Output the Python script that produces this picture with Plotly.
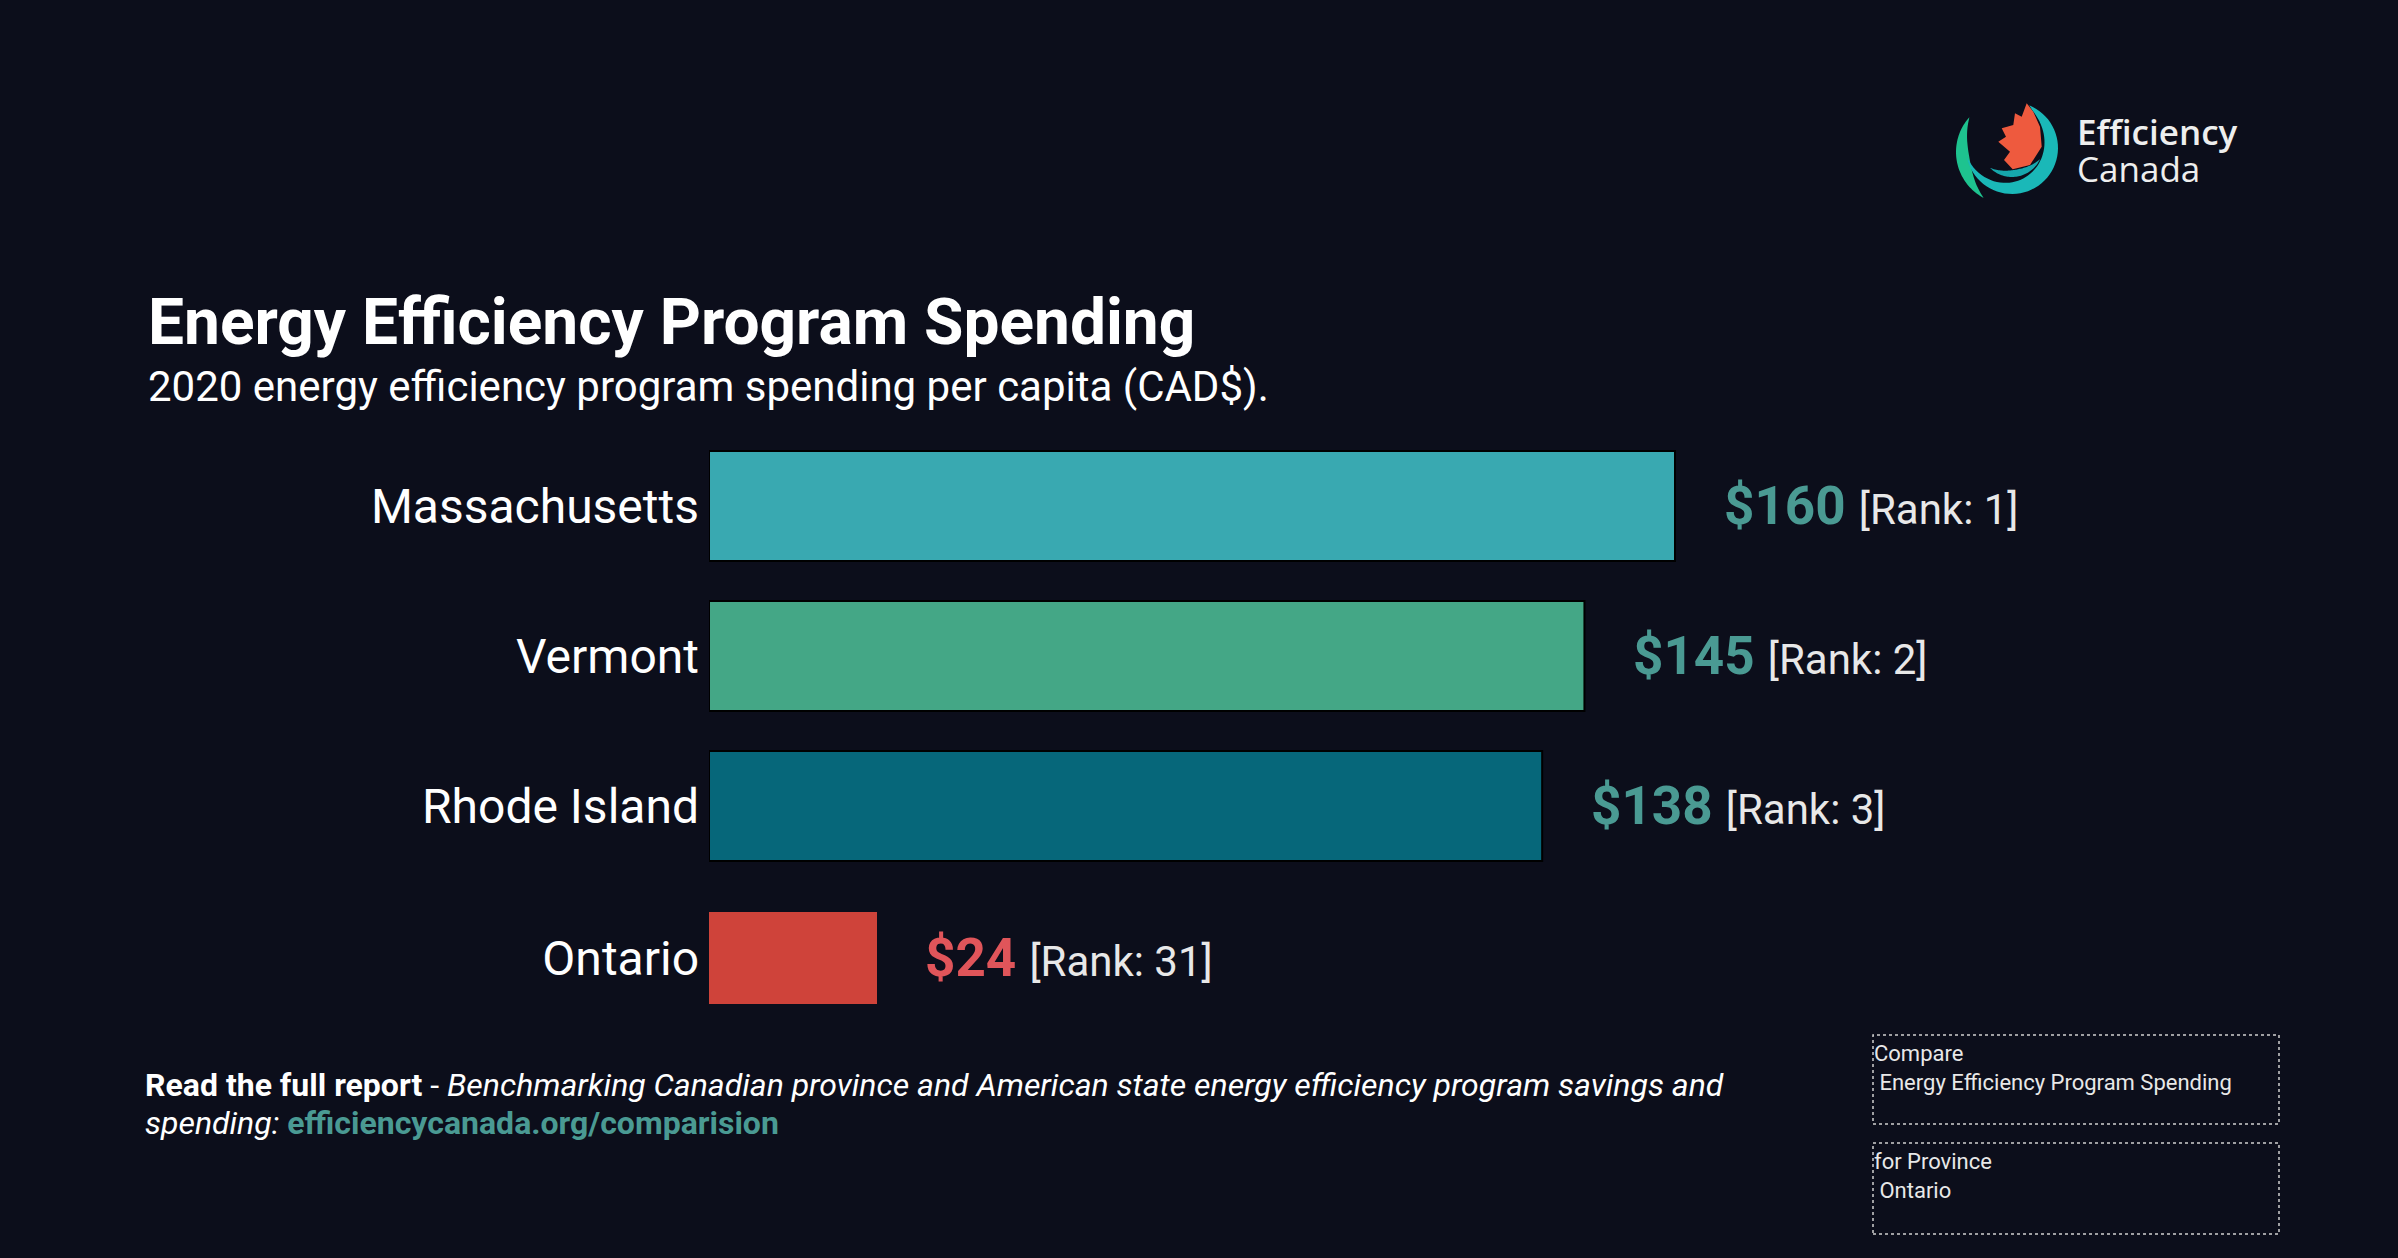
import math
import plotly.graph_objects as go

# ---------------- data ----------------
states = ["Massachusetts", "Vermont", "Rhode Island"]
state_values = [160, 145, 138]
state_ranks = [1, 2, 3]
state_colors = ["#39a9b1", "#44a786", "#06677a"]

province = ["Ontario"]
province_values = [24]
province_ranks = [31]
province_colors = ["#cf433a"]

title_text = "Energy Efficiency Program Spending"
subtitle_text = "2020 energy efficiency program spending per capita (CAD$)."

# ---------------- layout helpers ----------------
W, H = 2398, 1258
BG = "#0c0e1b"
TEAL_TXT = "#4a9a93"
RED_TXT = "#e0555a"
LIGHT = "#e8e8e8"


def fx(px):
    return px / W


def fy(py):
    return 1 - py / H


fig = go.Figure()

fig.add_trace(go.Bar(
    x=state_values, y=states, orientation="h",
    marker=dict(color=state_colors, line=dict(color="#000000", width=2)),
    width=0.733, xaxis="x", yaxis="y", hoverinfo="skip", showlegend=False,
))
fig.add_trace(go.Bar(
    x=province_values, y=province, orientation="h",
    marker=dict(color=province_colors, line=dict(width=0)),
    width=0.613, xaxis="x2", yaxis="y2", hoverinfo="skip", showlegend=False,
))

annotations = []
for name, v, r in zip(states, state_values, state_ranks):
    annotations.append(dict(
        x=v, y=name, xref="x", yref="y", xanchor="left", yanchor="middle",
        xshift=47, showarrow=False,
        text=f"<b>${v}</b> <span style='color:{LIGHT};font-size:42px'>[Rank: {r}]</span>",
        font=dict(family="Roboto", size=53, color=TEAL_TXT),
    ))
for name, v, r in zip(province, province_values, province_ranks):
    annotations.append(dict(
        x=v, y=name, xref="x2", yref="y2", xanchor="left", yanchor="middle",
        xshift=46, showarrow=False,
        text=f"<b>${v}</b> <span style='color:{LIGHT};font-size:42px'>[Rank: {r}]</span>",
        font=dict(family="Roboto", size=53, color=RED_TXT),
    ))

# title / subtitle
annotations.append(dict(
    x=fx(146), y=fy(322), xref="paper", yref="paper", xanchor="left", yanchor="middle",
    showarrow=False, text=f"<b>{title_text}</b>",
    font=dict(family="Roboto", size=64, color="#ffffff"),
))
annotations.append(dict(
    x=fx(146), y=fy(386), xref="paper", yref="paper", xanchor="left", yanchor="middle",
    showarrow=False, text=subtitle_text,
    font=dict(family="Roboto", size=42, color="#ffffff"),
))

# footer (two lines)
footer_1 = ("<b>Read the full report</b> - <i>Benchmarking Canadian province and American state "
            "energy efficiency program savings and</i>")
footer_2 = (f"<i>spending:</i> <span style='color:{TEAL_TXT}'><b>efficiencycanada.org/comparision</b></span>")
for txt, yc in ((footer_1, 1085), (footer_2, 1123)):
    annotations.append(dict(
        x=fx(143), y=fy(yc), xref="paper", yref="paper", xanchor="left", yanchor="middle",
        showarrow=False, align="left", text=txt,
        font=dict(family="Roboto", size=32, color="#ffffff"),
    ))

# filter boxes
shapes = []
boxes = [
    (1035, 1124, "Compare<br>\u00a0Energy Efficiency Program Spending"),
    (1143, 1234, "for Province<br>\u00a0Ontario"),
]
for top, bot, txt in boxes:
    shapes.append(dict(type="rect", xref="paper", yref="paper",
                       x0=fx(1873), x1=fx(2279), y0=fy(bot), y1=fy(top),
                       line=dict(color="#cfcfcf", width=1.5, dash="dot")))
    annotations.append(dict(
        x=fx(1872), y=fy(top + 4), xref="paper", yref="paper", xanchor="left", yanchor="top",
        showarrow=False, align="left", text=txt,
        font=dict(family="Roboto", size=22, color=LIGHT),
    ))

# logo text (one block; base size sets the tight line spacing)
annotations.append(dict(
    x=fx(2075), y=fy(150), xref="paper", yref="paper", xanchor="left", yanchor="middle",
    showarrow=False, align="left",
    text=("<span style='font-size:35px;font-weight:600'>Efficiency</span><br>"
          "<span style='font-size:35px'>Canada</span>"),
    font=dict(family="Open Sans", size=28.5, color="#eeeeee"),
))


# logo graphics
def path_from(points):
    s = "M " + " L ".join(f"{fx(x):.5f},{fy(y):.5f}" for x, y in points) + " Z"
    return s


def crescent(cx, cy, R, a1, a2, tmax, skew=1.0, n=48):
    outer, inner = [], []
    for i in range(n + 1):
        u = i / n
        t = math.radians(a1 + (a2 - a1) * u)
        th = tmax * math.sin(math.pi * (u ** skew)) ** 0.9
        outer.append((cx + R * math.cos(t), cy - R * math.sin(t)))
        inner.append((cx + (R - th) * math.cos(t), cy - (R - th) * math.sin(t)))
    return path_from(outer + inner[::-1])


leaf = [(2026.7, 103.3), (2021.7, 116.7), (2015, 113.3), (2013.3, 125), (2001.7, 128.3),
        (2006, 136.7), (1998.3, 141.7), (2010, 151.7), (2004, 160), (2012.7, 169.3),
        (2030, 165), (2041.7, 146.7), (2040, 126.7), (2033.3, 111.7)]
shapes.append(dict(type="path", xref="paper", yref="paper", path=path_from(leaf),
                   fillcolor="#ee5a3e", line=dict(width=0)))
shapes.append(dict(type="path", xref="paper", yref="paper",
                   path=crescent(2008, 152, 52, 138, 242, 13),
                   fillcolor="#1ec38f", line=dict(width=0)))
shapes.append(dict(type="path", xref="paper", yref="paper",
                   path=crescent(2012, 148, 46, 68, -168, 15, skew=0.8),
                   fillcolor="#1ab8b8", line=dict(width=0)))
shapes.append(dict(type="path", xref="paper", yref="paper",
                   path=crescent(2012, 146, 31, -25, -135, 7),
                   fillcolor="#16a7ad", line=dict(width=0)))

fig.update_layout(
    width=W, height=H,
    paper_bgcolor=BG, plot_bgcolor=BG,
    margin=dict(l=0, r=0, t=0, b=0),
    showlegend=False,
    xaxis=dict(domain=[fx(709), fx(1916.5)], range=[0, 200], visible=False, fixedrange=True),
    yaxis=dict(domain=[fy(881), fy(431)], range=[2.5, -0.5], type="category",
               showgrid=False, zeroline=False, showline=False, ticks="",
               ticklabelstandoff=9,
               tickfont=dict(family="Roboto", size=48, color="#ffffff"), anchor="x"),
    xaxis2=dict(domain=[fx(709), fx(1916.5)], range=[0, 1207.5 / 7], visible=False,
                fixedrange=True, anchor="y2"),
    yaxis2=dict(domain=[fy(1033), fy(883)], range=[0.5, -0.5], type="category",
                showgrid=False, zeroline=False, showline=False, ticks="",
                ticklabelstandoff=9,
                tickfont=dict(family="Roboto", size=48, color="#ffffff"), anchor="x2"),
    annotations=annotations,
    shapes=shapes,
)

fig.write_html("out.html")
